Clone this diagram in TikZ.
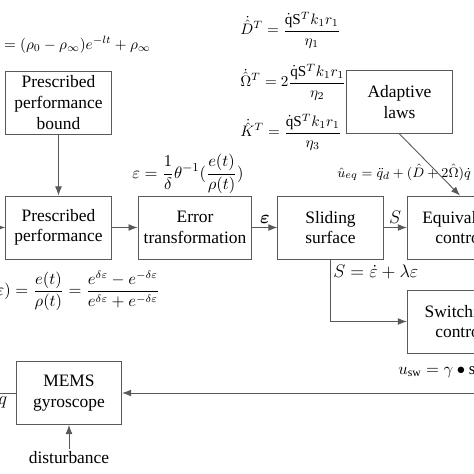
\documentclass[tikz,border=0pt]{standalone}
\usepackage{amssymb}
\usepackage{amsmath}
\usepackage{fontspec}
\setmainfont{Liberation Serif}
\usetikzlibrary{arrows.meta}

\begin{document}
\begin{tikzpicture}[x = 0.0232cm, y = -0.0232cm,
        blockbox/.style = {draw = black!65, line width = 0.6pt, minimum width = 2.44cm, minimum height = 1.46cm,
            align = center, inner sep = 0pt, font = \fontsize{11.5}{13.6}\selectfont},
        link/.style = {draw = black!65, line width = 0.6pt, -{Latex[length = 6pt, width = 4.5pt]}},
        eqn/.style = {inner sep = 0pt, font = \fontsize{10}{12}\selectfont}]
            \useasboundingbox (0, 0) rectangle (474, 474);
            \clip (0, 0) rectangle (474, 474);

            \node[blockbox] (bound) at (58.5, 102.5) {Prescribed\\performance\\bound};
            \node[blockbox] (perf) at (58.5, 227.5) {Prescribed\\performance};
            \node[blockbox, minimum width = 2.64cm] (trans) at (195, 227.5) {Error\\transformation};
            \node[blockbox] (slide) at (330.5, 227.5) {Sliding\\surface};
            \node[blockbox] (equiv) at (460, 227.5) {Equivalent\\control};
            \node[blockbox] (switch) at (460, 321.5) {Switching\\control};
            \node[blockbox] (adapt) at (399.5, 102) {Adaptive\\laws};
            \node[blockbox] (mems) at (69, 393) {MEMS\\gyroscope};
            \node[inner sep = 2pt, font = \fontsize{11.5}{13}\selectfont] (dist) at (69, 458) {disturbance};

            \coordinate (in) at (-10, 227.5);
            \coordinate (out) at (-10, 393);
            \coordinate (fb) at (490, 393);

            \draw[link] (in) -- (perf);
            \draw[link] (bound) -- (perf);
            \draw[link] (perf) -- (trans);
            \draw[link] (trans) -- node[above, yshift = -1pt, font = \large] {$\boldsymbol{\varepsilon}$} (slide);
            \draw[link] (slide) -- node[above, yshift = -1pt, font = \large] {$S$} (equiv);
            \draw[link] (slide.south) |- (switch.west);
            \draw[link] (adapt.south) -- (equiv.north);
            \draw[link] (fb) -- (mems);
            \draw[draw = black!65, line width = 0.6pt] (mems) -- (out);
            \draw[link] (dist) -- (mems);
            \node[eqn, font = \large] (qout) at (3, 402) {$q$};

            \node[eqn, anchor = base east] at (151, 49) {$\rho(t) = (\rho_0 - \rho_\infty)e^{-lt} + \rho_\infty$};
            \node[eqn, anchor = west] at (240, 30) {$\displaystyle \dot{\hat{D}}^T = \frac{\dot{\mathrm{q}}\mathrm{S}^T k_1 r_1}{\eta_1}$};
            \node[eqn, anchor = west] at (240, 82) {$\displaystyle \dot{\hat{\Omega}}^T = 2\frac{\dot{\mathrm{q}}\mathrm{S}^T k_1 r_1}{\eta_2}$};
            \node[eqn, anchor = west] at (240, 132) {$\displaystyle \dot{\hat{K}}^T = \frac{\dot{\mathrm{q}}\mathrm{S}^T k_1 r_1}{\eta_3}$};
            \node[eqn, anchor = west, font = \fontsize{11}{13}\selectfont] at (132, 174) {$\displaystyle \varepsilon = \frac{1}{\delta}\theta^{-1}(\frac{e(t)}{\rho(t)})$};
            \node[eqn, anchor = base west, font = \fontsize{9.5}{11}\selectfont] at (337, 177) {$\hat{u}_{eq} = \ddot{q}_d + (\hat{D} + 2\hat{\Omega})\dot{q} + \hat{K}q$};
            \node[eqn, anchor = base west, font = \fontsize{11.5}{13}\selectfont] at (333, 277) {$S = \dot{\varepsilon} + \lambda\varepsilon$};
            \node[eqn, anchor = east, font = \fontsize{10.7}{13}\selectfont] at (160, 291) {$\displaystyle \theta(\delta\varepsilon) = \frac{e(t)}{\rho(t)} = \frac{e^{\delta\varepsilon} - e^{-\delta\varepsilon}}{e^{\delta\varepsilon} + e^{-\delta\varepsilon}}$};
            \node[eqn, anchor = base west, font = \fontsize{11}{13}\selectfont] at (398, 374) {$u_{\mathrm{sw}} = \gamma \bullet \mathrm{sgn}(S)$};
        \end{tikzpicture}
\end{document}
